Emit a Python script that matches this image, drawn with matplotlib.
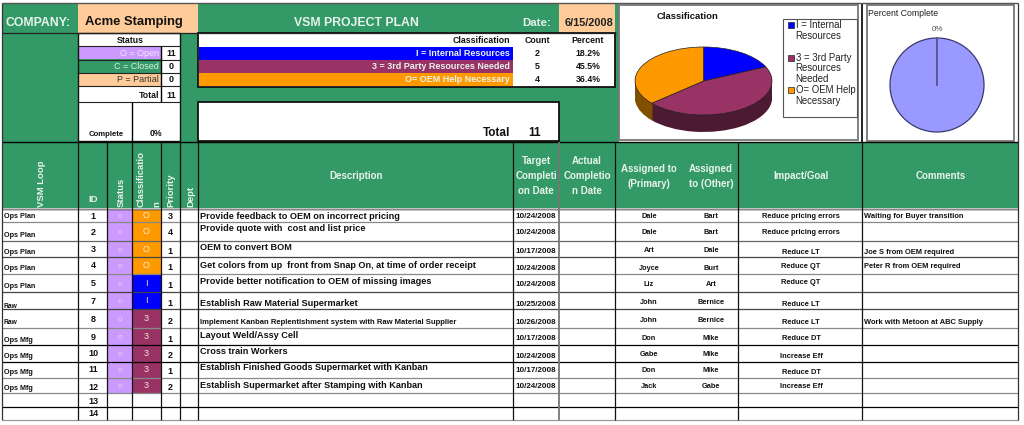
import numpy as np
import matplotlib
matplotlib.use("Agg")
import matplotlib.pyplot as plt
from matplotlib.patches import Rectangle

plt.rcParams["font.family"] = ["Liberation Sans", "DejaVu Sans"]

# ---- data ----
COMPANY = "Acme Stamping"
PLAN_DATE = "6/15/2008"
STATUS_LABELS = ["O = Open", "C = Closed", "P = Partial"]
STATUS_COUNTS = [11, 0, 0]
STATUS_TOTAL = 11
PCT_COMPLETE = "0%"
CLASS_LABELS = ["I = Internal Resources", "3 = 3rd Party Resources Needed", "O= OEM Help Necessary"]
CLASS_COUNTS = [2, 5, 4]
CLASS_PCTS = ["18.2%", "45.5%", "36.4%"]
LEGEND_LINES = [["I = Internal", "Resources"], ["3 = 3rd Party", "Resources", "Needed"], ["O= OEM Help", "Necessary"]]
COMPLETE_SPLIT = [0, 100]

LOOPS = ["Ops Plan"] * 5 + ["Raw"] * 2 + ["Ops Mfg"] * 4
IDS = [1, 2, 3, 4, 5, 7, 8, 9, 10, 11, 12, 13, 14]
STATUS = ["o"] * 11
CLASSES = ["O", "O", "O", "O", "I", "I", "3", "3", "3", "3", "3"]
PRIORITY = [3, 4, 1, 1, 1, 1, 2, 1, 2, 1, 2]
DESCRIPTIONS = [
    "Provide feedback to OEM on incorrect pricing",
    "Provide quote with  cost and list price",
    "OEM to convert BOM",
    "Get colors from up  front from Snap On, at time of order receipt",
    "Provide better notification to OEM of missing images",
    "Establish Raw Material Supermarket",
    "Implement Kanban Replentishment system with Raw Material Supplier",
    "Layout Weld/Assy Cell",
    "Cross train Workers",
    "Establish Finished Goods Supermarket with Kanban",
    "Establish Supermarket after Stamping with Kanban",
]
TARGET_DATES = ["10/24/2008", "10/24/2008", "10/17/2008", "10/24/2008", "10/24/2008", "10/25/2008",
                "10/26/2008", "10/17/2008", "10/24/2008", "10/17/2008", "10/24/2008"]
PRIMARY = ["Dale", "Dale", "Art", "Joyce", "Liz", "John", "John", "Don", "Gabe", "Don", "Jack"]
OTHER = ["Bart", "Bart", "Dale", "Burt", "Art", "Bernice", "Bernice", "Mike", "Mike", "Mike", "Gabe"]
IMPACT = ["Reduce pricing errors", "Reduce pricing errors", "Reduce LT", "Reduce QT", "Reduce QT", "Reduce LT",
          "Reduce LT", "Reduce DT", "Increase Eff", "Reduce DT", "Increase Eff"]
COMMENTS = ["Waiting for Buyer transition", "", "Joe S from OEM required", "Peter R from OEM required", "", "",
            "Work with Metoon at ABC Supply", "", "", "", ""]

# ---- layout, in image pixels ----
GREEN = "#339966"
PEACH = "#FFCC99"
LILAC = "#CC99FF"
BLUE = "#0000FF"
PLUM = "#993366"
ORANGE = "#FF9900"
PALE = "#E8F3EC"
INK = "#111111"
CLASS_COLORS = {"I": BLUE, "3": PLUM, "O": ORANGE}
PIE_COLORS = [BLUE, PLUM, ORANGE]
PIE_DARK = ["#000080", "#4D1A33", "#805000"]

ROW_EDGES = [209, 222, 241, 257, 274, 292, 309, 328, 345, 362, 378, 393, 407, 420]
ROW_LINE_COLORS = ["#888888", "#888888", "#666666", "#444444", "#888888", "#444444", "#444444", "#888888",
                   "#000000", "#000000", "#888888", "#888888", "#000000", "#999999"]
LOOP_Y = [216, 235, 252, 268, 286, 306, 323, 340, 356, 372, 388]
ID_Y = [216, 232, 249, 266, 283, 302, 320, 338, 354, 370, 387, 401, 414]
PRIO_Y = [216, 232, 251, 267, 285, 303, 322, 339, 356, 372, 388]
DESC_Y = [216, 228, 247, 265, 282, 303, 322, 336, 352, 368, 385]
DATE_Y = [216, 232, 251, 268, 285, 304, 323, 339, 356, 371, 387]
PRIMARY_Y = [216, 232, 250, 268, 284, 302, 320, 338, 355, 371, 387]
IMPACT_Y = [216, 232, 252, 267, 283, 304, 323, 339, 356, 372, 387]

W, H = 1024, 425
fig = plt.figure(figsize=(W / 100, H / 100), dpi=100, facecolor="white")
ax = fig.add_axes([0, 0, 1, 1])
ax.set_xlim(0, W)
ax.set_ylim(H, 0)
ax.axis("off")


def box(x0, y0, x1, y1, fc="none", ec="none", lw=0.0, z=1):
    ax.add_patch(Rectangle((x0, y0), x1 - x0, y1 - y0, facecolor=fc, edgecolor=ec, linewidth=lw, zorder=z))


def txt(x, y, s, size=5.8, ha="center", color=INK, weight="bold", rot=0, va="center"):
    ax.text(x, y, s, fontsize=size, ha=ha, va=va, color=color, fontweight=weight, rotation=rot, zorder=6)


def inset(x0, y0, x1, y1):
    a = fig.add_axes([x0 / W, 1 - y1 / H, (x1 - x0) / W, (y1 - y0) / H])
    a.patch.set_alpha(0)
    return a


# backgrounds
box(2, 3, 1018, 208, fc=GREEN)
box(78, 3, 198, 32.5, fc=PEACH)
box(559, 3, 615, 32.5, fc=PEACH)

# status block
box(78, 33, 180, 141, fc="white")
for c, y0, y1 in [(LILAC, 46, 59), (GREEN, 59, 73), (PEACH, 73, 86)]:
    box(78, y0, 161, y1, fc=c)
ax.hlines([46, 59.5, 73, 86, 102], 78, 180, color="#222222", lw=0.8, zorder=3)
ax.vlines(161, 46, 102, color="black", lw=1.0, zorder=3)
ax.vlines(132, 102, 141, color="black", lw=1.0, zorder=3)
box(78, 33, 180, 141, ec="#111111", lw=1.0, z=3)
txt(130, 40, "Status", 6.3)
STATUS_TEXT = ["#F3E6FF", "#DDEFE4", "#333333"]
for label, n, y, c in zip(STATUS_LABELS, STATUS_COUNTS, [53, 66, 79], STATUS_TEXT):
    txt(159, y, label, 6.5, ha="right", color=c, weight="normal")
    txt(171, y, n, 6.5)
txt(159, 95, "Total", 6.3, ha="right")
txt(171, 95, STATUS_TOTAL, 6.5)
txt(106, 134, "Complete", 5.6)
txt(156, 134, PCT_COMPLETE, 6.3)

# classification block
box(198, 33, 615, 87, fc="white", ec="#111111", lw=1.3, z=1)
txt(510, 40, "Classification", 6.3, ha="right")
txt(537, 40, "Count", 6.3)
txt(588, 40, "Percent", 6.3)
for label, n, pct, c, y0 in zip(CLASS_LABELS, CLASS_COUNTS, CLASS_PCTS, PIE_COLORS, [47, 60, 73]):
    box(199, y0, 513, y0 + 13, fc=c, z=2)
    txt(510, y0 + 6.5, label, 6.5, ha="right", color=PALE)
    txt(537, y0 + 6.5, n, 6.5)
    txt(588, y0 + 6.5, pct, 6.3)

# total block
box(198, 102, 559, 141, fc="white", ec="#111111", lw=1.3, z=1)
txt(510, 133, "Total", 8.5, ha="right")
txt(535, 133, STATUS_TOTAL, 8.5)

# title band
txt(5, 23, "COMPANY:", 8.8, ha="left", color=PALE)
txt(85, 22, COMPANY, 9.4, ha="left")
txt(356, 23, "VSM PROJECT PLAN", 8.8, color=PALE)
txt(522, 23, "Date:", 8.2, ha="left", color=PALE)
txt(613, 23, PLAN_DATE, 7.9, ha="right", color="#222222")

# chart panels
box(616, 3, 1018, 142, fc="white")
box(616, 3, 619, 142, fc=GREEN)
box(619, 5, 858, 140, fc="white", ec="#777777", lw=1.3, z=2)
box(867, 5, 1014, 141, fc="white", ec="#777777", lw=1.3, z=2)
ax.vlines(862, 3, 142, color="black", lw=1.2, zorder=3)
txt(688, 16, "Classification", 6.8)
box(783, 19, 857, 117, fc="white", ec="#555555", lw=0.8, z=3)
legend_y = [[25, 36], [58, 68, 79], [90, 101]]
for lines, ys, c in zip(LEGEND_LINES, legend_y, PIE_COLORS):
    box(788, ys[0] - 3, 794, ys[0] + 3, fc=c, ec="#222222", lw=0.5, z=4)
    for s, y in zip(lines, ys):
        txt(795.5, y, s, 6.9, ha="left", color="#222222", weight="normal")
txt(868, 13, "Percent Complete", 6.3, ha="left", color="#222222", weight="normal")
txt(937, 29, PCT_COMPLETE, 5.8, color="#555555", weight="normal")

# 3d look: darker copies of the pie stacked below the top face
cx, cy, rx, ry, depth = 703.5, 81, 68.5, 34, 0.5
pie_ax = inset(cx - 1.1 * rx, cy - 1.1 * ry, cx + 1.1 * rx, cy + 1.6 * ry)
for off in np.arange(depth, 0, -0.03):
    pie_ax.pie(CLASS_COUNTS, startangle=90, counterclock=False, colors=PIE_DARK, center=(0, -off),
               wedgeprops={"linewidth": 0})
pie_ax.pie(CLASS_COUNTS, startangle=90, counterclock=False, colors=PIE_COLORS,
           wedgeprops={"linewidth": 0.5, "edgecolor": "#222222"})
pie_ax.set_aspect("auto")
pie_ax.set_xlim(-1.1, 1.1)
pie_ax.set_ylim(-1.6, 1.1)

done_ax = inset(937 - 52, 85 - 52, 937 + 52, 85 + 52)
done_ax.pie(COMPLETE_SPLIT, startangle=90, counterclock=False, colors=["#9999FF", "#9999FF"],
            wedgeprops={"linewidth": 0.9, "edgecolor": "#3A3A70"})
# zero slice gets no wedge of its own, so draw its edge
done_angle = np.deg2rad(90 - 360 * COMPLETE_SPLIT[0] / sum(COMPLETE_SPLIT))
done_ax.plot([0, np.cos(done_angle)], [0, np.sin(done_angle)], color="#5A5A90", lw=1.4)
done_ax.set_xlim(-52 / 47, 52 / 47)
done_ax.set_ylim(-52 / 47, 52 / 47)

# header row text
ax.hlines(142, 2, 1018, color="black", lw=1.0, zorder=3)
ax.hlines(208.5, 2, 1018, color="black", lw=1.0, zorder=3)
for x, s in [(41, "VSM Loop"), (121, "Status"), (141, "Classificatio"), (157, "n"), (171, "Priority"), (191, "Dept")]:
    txt(x, 207, s, 6.8, color=PALE, rot=90, va="bottom")
txt(93, 199, "ID", 6.8, color=PALE)
txt(356, 176, "Description", 7.0, color=PALE)
for x, lines, ys in [(536, ["Target", "Completi", "on Date"], [161, 176, 191]),
                     (587, ["Actual", "Completio", "n Date"], [161, 176, 191]),
                     (649, ["Assigned to", "(Primary)"], [169, 184]),
                     (711, ["Assigned", "to (Other)"], [169, 184]),
                     (801, ["Impact/Goal"], [176]),
                     (941, ["Comments"], [176])]:
    for s, y in zip(lines, ys):
        txt(x, y, s, 7.0, color=PALE)

# table body
box(2, 209, 1018, 420, fc="white", z=0.5)
for i, c in enumerate(CLASSES):
    y0, y1 = ROW_EDGES[i], ROW_EDGES[i + 1]
    box(107, y0, 132, y1, fc=LILAC, z=1)
    box(132, y0, 161, y1, fc=CLASS_COLORS[c], z=1)
    txt(119.5, (y0 + y1) / 2 + 1, STATUS[i], 6, color="#E6D4FF", weight="normal")
    txt(146.5, (y0 + y1) / 2, c, 6.5, color="#F5E6D0", weight="normal")

ax.hlines(ROW_EDGES, 2, 1018, colors=ROW_LINE_COLORS, lw=0.9, zorder=3)
ax.vlines([78, 107, 132, 161, 180, 198, 513, 615, 738, 862], 142, 420, color="#111111", lw=0.9, zorder=3)
ax.vlines(559, 142, 420, color="#777777", lw=1.3, zorder=3)
ax.vlines([2, 1018], 3, 420, color="#333333", lw=0.9, zorder=3)
ax.hlines(3, 2, 1018, color="#555555", lw=1.0, zorder=3)
ax.hlines(32.5, 2, 616, color="#222222", lw=0.9, zorder=3)

for n, y in zip(IDS, ID_Y):
    txt(93, y, n, 6.5)
for i in range(len(LOOPS)):
    txt(4, LOOP_Y[i], LOOPS[i], 4.8 if LOOPS[i] == "Raw" else 5.2, ha="left")
    txt(170, PRIO_Y[i], PRIORITY[i], 6.5)
    # row 8 is typed smaller in the sheet
    txt(200, DESC_Y[i], DESCRIPTIONS[i], 5.5 if DESCRIPTIONS[i].startswith("Implement") else 6.6, ha="left")
    txt(536, DATE_Y[i], TARGET_DATES[i], 5.8)
    txt(649, PRIMARY_Y[i], PRIMARY[i], 5.3)
    txt(711, PRIMARY_Y[i], OTHER[i], 5.3)
    txt(801, IMPACT_Y[i], IMPACT[i], 5.45)
    if COMMENTS[i]:
        txt(864, IMPACT_Y[i], COMMENTS[i], 5.4, ha="left")

fig.savefig("out.png", dpi=100)
